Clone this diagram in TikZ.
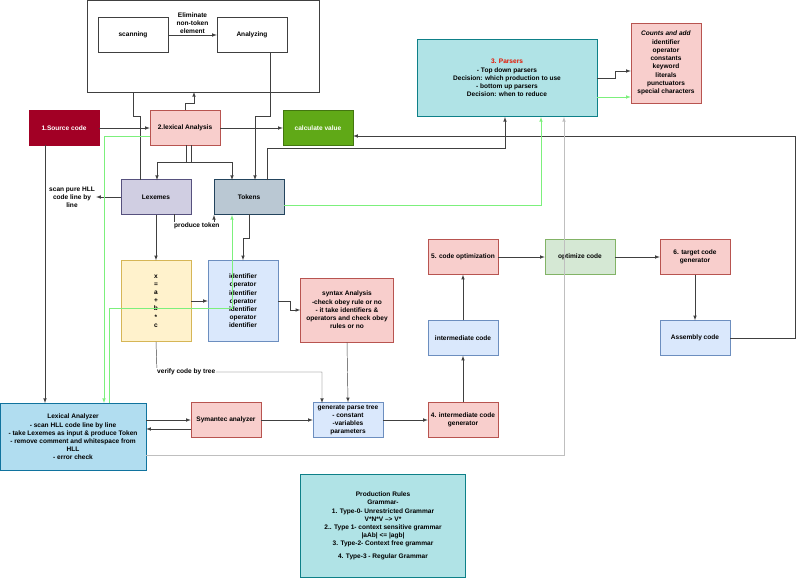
\documentclass[tikz,border=0pt]{standalone}
\usepackage{fontspec}
\setmainfont{Liberation Sans}
\usetikzlibrary{positioning}
\definecolor{darkred}{HTML}{A20025}
\definecolor{redfill}{HTML}{F8CECC}
\definecolor{redline}{HTML}{B85450}
\definecolor{grassfill}{HTML}{60A917}
\definecolor{purfill}{HTML}{D0CEE2}
\definecolor{purline}{HTML}{56517E}
\definecolor{slatefill}{HTML}{BAC8D3}
\definecolor{slateline}{HTML}{23445D}
\definecolor{yelfill}{HTML}{FFF2CC}
\definecolor{yelline}{HTML}{D6B656}
\definecolor{bluefill}{HTML}{DAE8FC}
\definecolor{blueline}{HTML}{6C8EBF}
\definecolor{tealfill}{HTML}{B0E3E6}
\definecolor{tealline}{HTML}{0E8088}
\definecolor{skyfill}{HTML}{B1DDF0}
\definecolor{skyline}{HTML}{10739E}
\definecolor{greenfill}{HTML}{D5E8D4}
\definecolor{greenline}{HTML}{82B366}
\definecolor{linkgreen}{HTML}{7CF07C}
\definecolor{titlered}{HTML}{E51400}
\tikzset{
  bold/.style={font=\fontsize{5.6}{7}\selectfont\bfseries},
  box/.style={draw, minimum width=2.1cm, minimum height=1.05cm, inner sep=1pt, align=center, bold},
  redbox/.style={box, fill=redfill, draw=redline},
  bluebox/.style={box, fill=bluefill, draw=blueline},
  link/.style={->, >=latex, draw=black!75},
  glink/.style={->, >=latex, draw=linkgreen},
  txt/.style={inner sep=1pt, align=center, bold}
}
\begin{document}
\begin{tikzpicture}[x=0.03cm,y=-0.03cm]
\useasboundingbox (0,0) rectangle (800,580);

\node [draw=black!75, minimum width=6.96cm, minimum height=2.76cm] (lexbox) at (203,46) {};
\node [box, draw=black!75] (scan) at (133,35) {scanning};
\node [box, draw=black!75] (analyze) at (252,35) {Analyzing};
\draw [link] (scan) -- node [txt, above] {Eliminate\\non-token\\element} (analyze);

\node [box, fill=darkred, draw=darkred, text=white] (source) at (64,128) {1.Source code};
\node [redbox] (lexical) at (185,128) {2.lexical Analysis};
\node [box, fill=grassfill, draw=grassfill!70!black, text=white] (calc) at (318,128) {calculate value};
\node [box, fill=purfill, draw=purline] (lexemes) at (156,197) {Lexemes};
\node [box, fill=slatefill, draw=slateline] (tokens) at (249,197) {Tokens};
\node [txt] (scanpure) at (72,197) {scan pure HLL\\code line by\\line};

\node [box, fill=yelfill, draw=yelline, minimum height=2.43cm] (expr) at (156,301) {x\\=\\a\\+\\b\\*\\c};
\node [bluebox, minimum height=2.43cm] (ident) at (243,301) {identifier\\operator\\identifier\\operator\\identifier\\operator\\identifier};
\node [redbox, minimum width=2.79cm, minimum height=1.92cm] (syntax) at (347,310) {syntax Analysis\\-check obey rule or no\\- it take identifiers \&\\operators and check obey\\rules or no};

\node [box, fill=tealfill, draw=tealline, minimum width=5.4cm, minimum height=2.31cm] (parsers) at (507,78) {\textcolor{titlered}{3. Parsers}\\- Top down parsers\\Decision: which production to use\\- bottom up parsers\\Decision: when to reduce};
\node [redbox, minimum height=2.4cm] (counts) at (666,63) {\textit{Counts and add}\\identifier\\operator\\constants\\keyword\\literals\\punctuators\\special characters};

\node [box, fill=skyfill, draw=skyline, minimum width=4.38cm, minimum height=2.0cm] (analyzer) at (73,437) {Lexical Analyzer\\- scan HLL code line by line\\- take Lexemes as input \& produce Token\\- remove comment and whitespace from\\HLL\\- error check};
\node [redbox] (symantec) at (226,420) {Symantec analyzer};
\node [bluebox] (tree) at (348,420) {generate parse tree\\- constant\\-variables\\parameters};
\node [redbox] (intergen) at (463,420) {4. intermediate code\\generator};
\node [bluebox] (intercode) at (463,338) {intermediate code};
\node [redbox] (optim) at (463,257) {5. code optimization};
\node [box, fill=greenfill, draw=greenline] (optcode) at (580,257) {optimize code};
\node [redbox] (target) at (695,257) {6. target code\\generator};
\node [bluebox] (assembly) at (695,338) {Assembly code};

\node [box, fill=tealfill, draw=tealline, minimum width=4.95cm, minimum height=3.09cm] (rules) at (383,526) {Production Rules\\Grammar-\\1. Type-0- Unrestricted Grammar\\V*N*V --> V*\\2.. Type 1- context sensitive grammar\\|aAb| <= |agb|\\3. Type-2- Context free grammar\\[4pt]4. Type-3 - Regular Grammar};

\coordinate (lexup) at (194,92);
\coordinate (verify) at (157,372);
\coordinate (produce) at (174,226);
\coordinate (parsetop) at (322,403);

% main flow
\draw [link] (source) -- (lexical);
\draw [link] (lexical) -- (calc);
\draw [link] (lexical.north) |- (194,103) -- (lexup);
\draw [draw=black!75] (133,92) -- (133,116) -- (140,116) -- (140,180);
\draw [link] (analyze.south -| 270,0) -- (270,116) -- (255,116) -- (255,180);
\draw [draw=black!75] (186,145) -- (186,162) (191,145) -- (191,162);
\draw [link] (157,162) -- (232,162) -- (232,180);
\draw [link] (186,162) -- (157,162) -- (157,180);
\draw [link] (assembly.east) -- (795,338) -- (795,136) -- (calc.east |- 0,136);
\draw [link] (267,180) -- (267,148) -- (505,148) -- (505,117);
\draw [link] (parsers.east |- 0,78) -- (615,78) -- (615,71) -- (counts.west |- 0,71);
\draw [link] (lexemes) -- (scanpure);
\draw [link] (lexemes.south) -- (expr.north);
\draw [link] (174,214) -- (produce) node [txt, fill=white, right=-1pt] (prodtext) {produce token} -| (214,215);
\draw [link] (249,214) -- (249,238) -- (243,238) -- (ident.north);
\draw [link] (expr) -- (ident);
\draw [link] (ident.east) -- (290,301) -- (290,310) -- (syntax.west);
\draw [link] (syntax.south) -- (tree.north);
\draw [link] (expr.south) -- (verify) node [txt, fill=white, right=-1pt] (vertext) {verify code by tree} -| (parsetop);
\draw [link] (45,145) -- (45,403);
\draw [link] (analyzer.east |- 0,420) -- (symantec.west);
\draw [link] (symantec.west |- 0,429) -- (analyzer.east |- 0,429);
\draw [link] (symantec) -- (tree);
\draw [link] (tree) -- (intergen);
\draw [link] (intergen) -- (intercode);
\draw [link] (intercode) -- (optim);
\draw [link] (optim) -- (optcode);
\draw [link] (optcode) -- (target);
\draw [link] (target) -- (assembly);

% green and gray links
\draw [->, >=latex, draw=black!25] (146,455) -- (564,455) -- (564,117);
\draw [glink] (tokens.east |- 0,205) -- (541,205) -- (541,117);
\draw [glink] (parsers.east |- 0,97) -- (counts.west |- 0,97);
\draw [glink] (lexical.west |- 0,136) -- (104,136) -- (104,403);
\draw [glink] (109,403) -- (109,308) -- (232,308) -- (232,215);
\end{tikzpicture}
\end{document}
